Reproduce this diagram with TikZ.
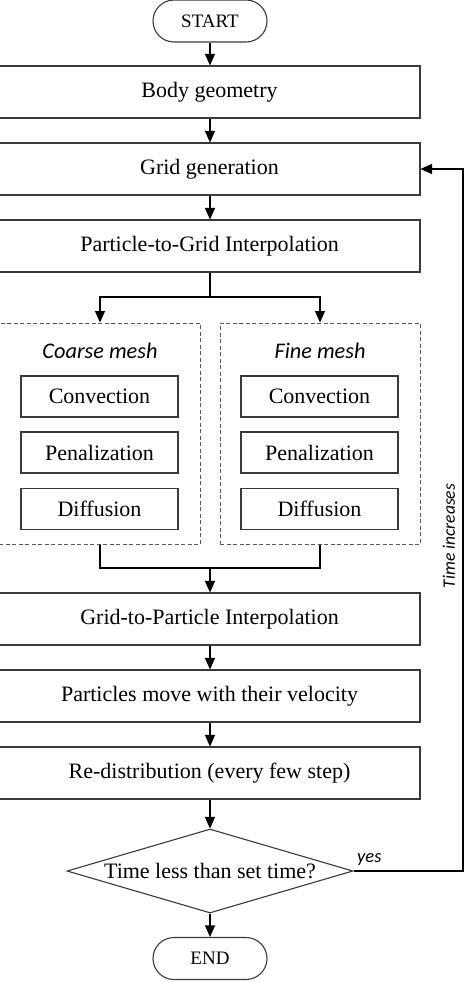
\documentclass[tikz,border=0pt]{standalone}
\usepackage{fontspec}
\setmainfont{Liberation Serif}
\newfontfamily\calfont{Carlito}
\usetikzlibrary{shapes.misc,shapes.geometric,arrows.meta}
\definecolor{edge}{HTML}{3A3A3A}
\tikzset{
  base/.style={draw=edge, line width=1.1pt, inner sep=0pt, align=center,
    font=\fontsize{22}{26}\selectfont},
  procbox/.style={base, rectangle, minimum width=421pt, minimum height=52pt},
  innerbox/.style={base, rectangle, minimum width=157pt, minimum height=41pt},
  termbox/.style={base, rounded rectangle, minimum width=114pt, minimum height=42pt,
    font=\fontsize{19}{22}\selectfont},
  meshbox/.style={draw=edge!85, line width=1pt, dash pattern=on 4pt off 2.5pt,
    rectangle, inner sep=0pt, minimum height=221pt},
  decbox/.style={base, diamond, aspect=3.4, minimum width=286pt, minimum height=84pt},
  meshtitle/.style={inner sep=0pt, font=\calfont\itshape\fontsize{22.3}{25}\selectfont},
  arr/.style={line width=1.1pt, -{Triangle[length=11.5pt,width=10pt]}},
  ln/.style={line width=1.1pt}
}
\begin{document}
\begin{tikzpicture}[x=1pt,y=-1pt]
\useasboundingbox (0,0) rectangle (474,982);
\node[termbox] (start) at (210,21) {START};
\node[procbox] (body) at (209.5,92) {Body geometry};
\node[procbox] (grid) at (209.5,169) {Grid generation};
\node[procbox] (p2g) at (209.5,246) {Particle-to-Grid Interpolation};
\coordinate (split) at (210,297);
\node[meshbox, minimum width=201pt] (coarse) at (99.5,433.5) {};
\node[meshbox, minimum width=200pt] (fine) at (320,433.5) {};
\node[meshtitle] (ctitle) at (100,351) {Coarse mesh};
\node[meshtitle] (ftitle) at (320,351) {Fine mesh};
\node[innerbox] (cconv) at (99.5,396.5) {Convection};
\node[innerbox] (cpen) at (99.5,452.5) {Penalization};
\node[innerbox] (cdiff) at (99.5,509) {Diffusion};
\node[innerbox] (fconv) at (319.5,396.5) {Convection};
\node[innerbox] (fpen) at (319.5,452.5) {Penalization};
\node[innerbox] (fdiff) at (319.5,509) {Diffusion};
\coordinate (merge) at (210,568);
\node[procbox] (g2p) at (209.5,619) {Grid-to-Particle Interpolation};
\node[procbox] (move) at (209.5,696) {Particles move with their velocity};
\node[procbox] (redist) at (209.5,773) {Re-distribution (every few step)};
\node[decbox] (dec) at (210,871) {Time less than set time?};
\node[termbox] (end) at (210,958.5) {END};
\coordinate (loopB) at (463,871);
\coordinate (loopT) at (463,169);
\node[inner sep=0pt, anchor=base west, font=\calfont\itshape\fontsize{18.5}{20}\selectfont] (yes) at (357,862) {yes};
\node[inner sep=0pt, rotate=90, font=\calfont\itshape\fontsize{17.5}{20}\selectfont] (time) at (449,536) {Time increases};

\draw[arr] (start.south) -- (start.south |- body.north);
\draw[arr] (start.south |- body.south) -- (start.south |- grid.north);
\draw[arr] (start.south |- grid.south) -- (start.south |- p2g.north);
\draw[ln] (start.south |- p2g.south) -- (split);
\draw[arr] (split) -| (ctitle.center |- coarse.north);
\draw[arr] (split) -| (ftitle.center |- fine.north);
\draw[ln] (ctitle.center |- coarse.south) |- (merge) -| (ftitle.center |- fine.south);
\draw[arr] (merge) -- (start.south |- g2p.north);
\draw[arr] (start.south |- g2p.south) -- (start.south |- move.north);
\draw[arr] (start.south |- move.south) -- (start.south |- redist.north);
\draw[arr] (start.south |- redist.south) -- (dec.north);
\draw[arr] (dec.south) -- (end.north);
\draw[arr] (dec.east) -- (loopB) -- (loopT) -- (grid.east);
\end{tikzpicture}
\end{document}
